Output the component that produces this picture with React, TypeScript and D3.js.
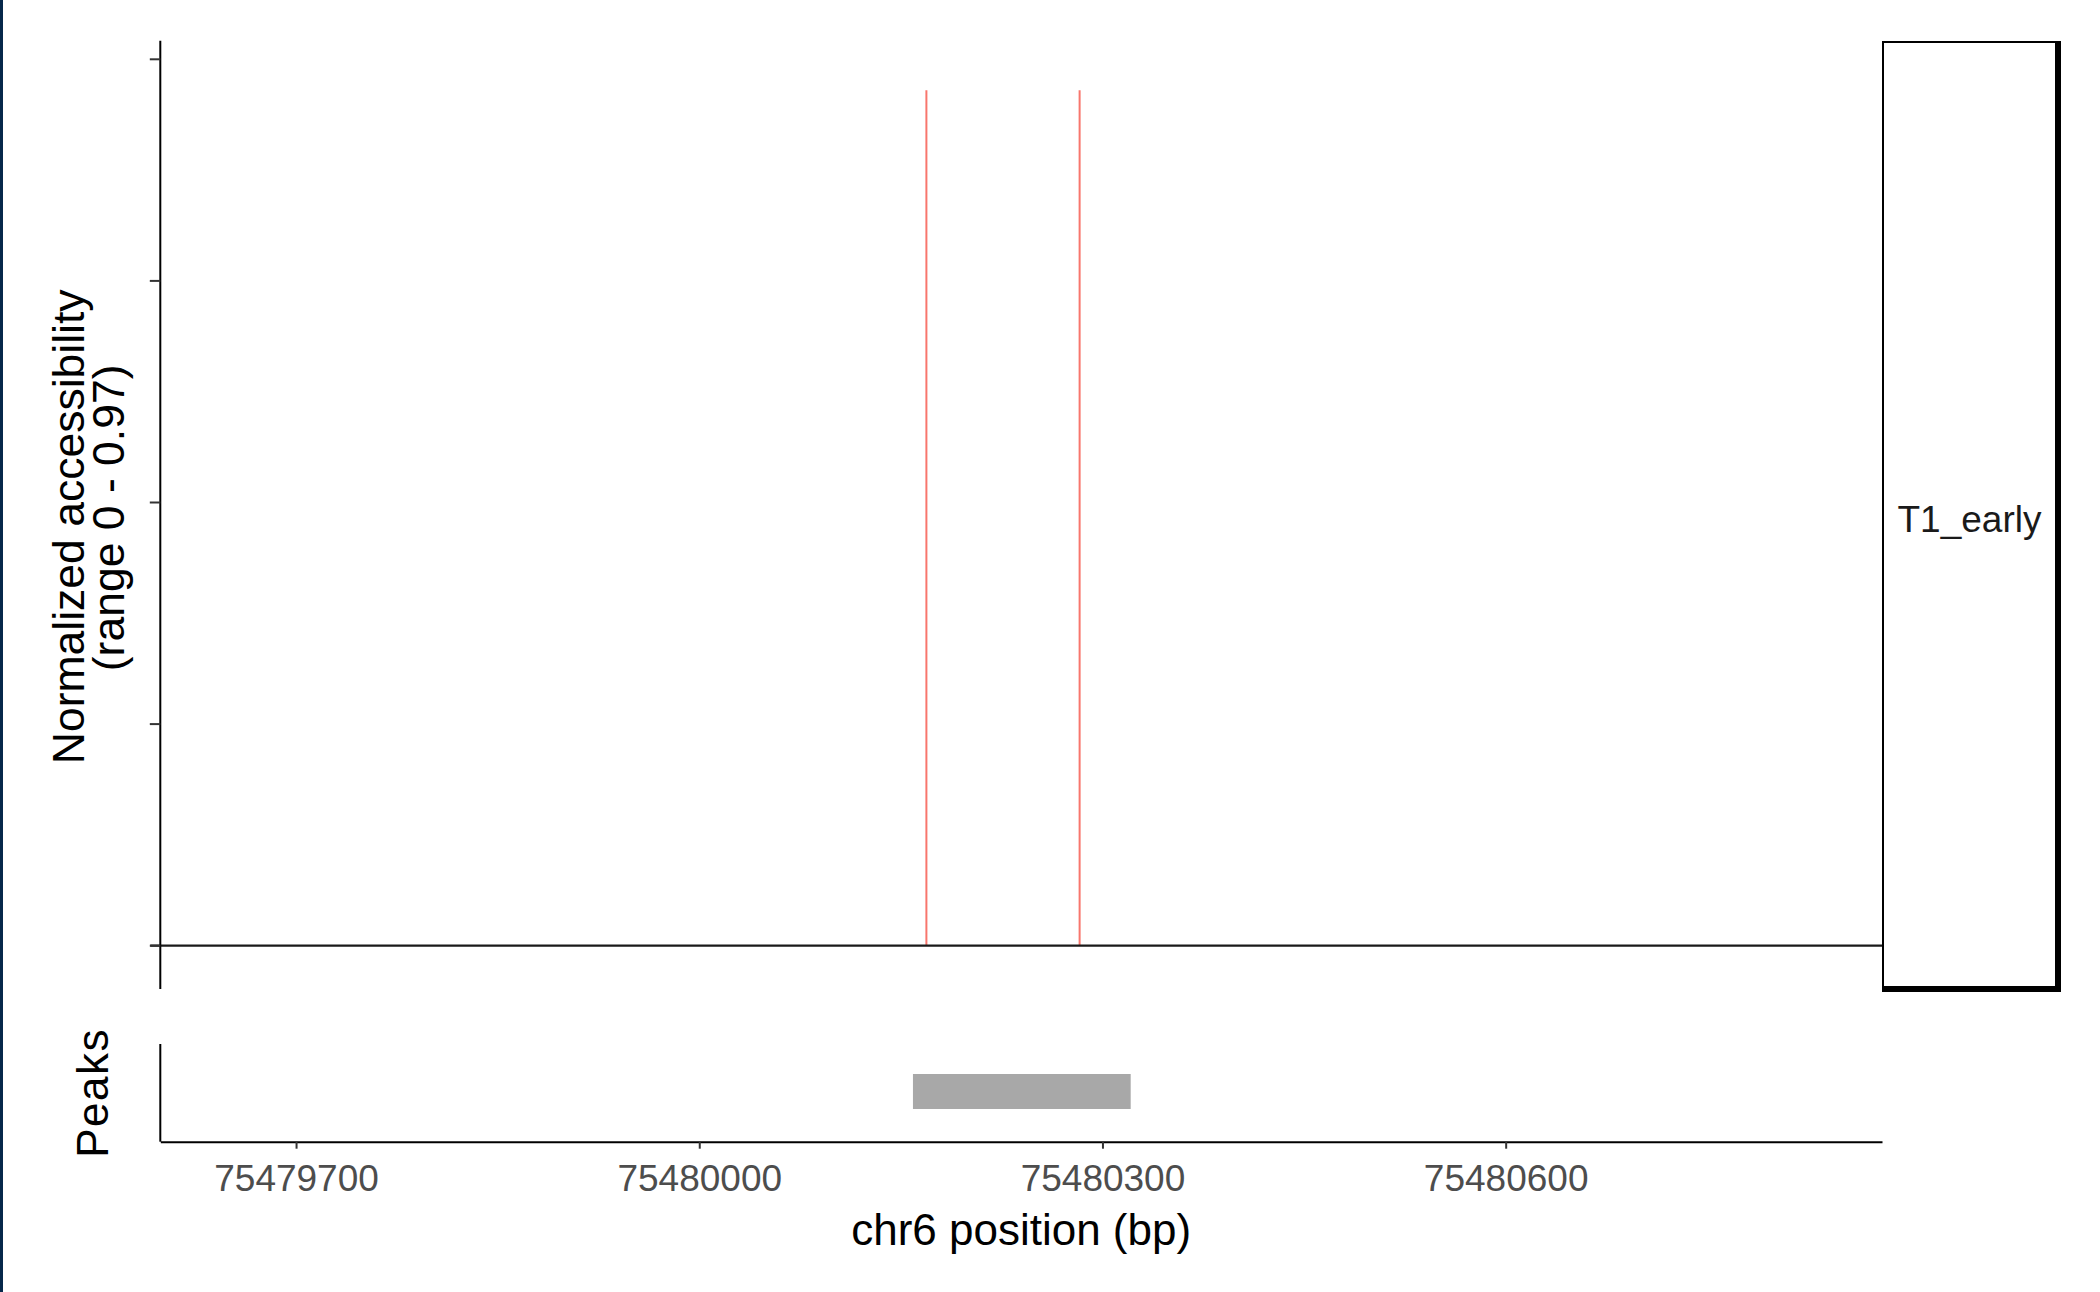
import React, { useEffect, useRef } from 'react';
import * as d3 from 'd3';

// region shown on chr6 (bp)
const regionStart = 75479599;
const regionEnd = 75480880;

// coverage track (T1_early): positions with signal and their normalized height
const coveragePos = [75480169, 75480283];
const coverageVal = [0.965, 0.965];

// peak intervals
const peakStart = [75480159];
const peakEnd = [75480321];

const xTicks = [75479700, 75480000, 75480300, 75480600];
const yTicks = [0, 0.25, 0.5, 0.75, 1];
const groupName = 'T1_early';

const FONT = '"Liberation Sans", Arial, Helvetica, sans-serif';

const App: React.FC = () => {
  const svgRef = useRef<SVGSVGElement>(null);

  useEffect(() => {
    document.body.style.margin = '0';
    if (!svgRef.current) return;
    const svg = d3.select(svgRef.current);
    svg.selectAll('*').remove();

    const left = 160.3;
    const right = 1882;
    const covTop = 40.7;
    const covBottom = 989;
    const peakTop = 1044;
    const peakBottom = 1141.7;

    const x = d3.scaleLinear().domain([regionStart, regionEnd]).range([left, right]);
    const y = d3.scaleLinear().domain([0, 1]).range([945.7, 59.3]);

    // left frame stripe of the screenshot
    svg.append('rect')
      .attr('x', 0).attr('y', 0).attr('width', 3).attr('height', 1292)
      .attr('fill', '#06284a');

    // coverage signal
    svg.append('g')
      .selectAll('line')
      .data(coveragePos.map((p, i) => ({ p, v: coverageVal[i] })))
      .enter().append('line')
      .attr('x1', d => x(d.p)).attr('x2', d => x(d.p))
      .attr('y1', y(0)).attr('y2', d => y(d.v))
      .attr('stroke', '#F8766D')
      .attr('stroke-width', 2);

    // zero line
    svg.append('line')
      .attr('x1', left - 10).attr('x2', right)
      .attr('y1', y(0)).attr('y2', y(0))
      .attr('stroke', '#1a1a1a').attr('stroke-width', 2.2);

    // y axis of the coverage panel
    svg.append('line')
      .attr('x1', left).attr('x2', left)
      .attr('y1', covTop).attr('y2', covBottom)
      .attr('stroke', '#000').attr('stroke-width', 2);

    svg.append('g')
      .selectAll('line')
      .data(yTicks)
      .enter().append('line')
      .attr('x1', left - 10.5).attr('x2', left)
      .attr('y1', d => y(d)).attr('y2', d => y(d))
      .attr('stroke', '#333').attr('stroke-width', 2);

    // strip on the right
    const sx0 = 1882, sx1 = 2061, sy0 = 41, sy1 = 992;
    svg.append('rect')
      .attr('x', sx0 + 1).attr('y', sy0 + 1)
      .attr('width', sx1 - sx0 - 2).attr('height', sy1 - sy0 - 2)
      .attr('fill', '#fff')
      .attr('stroke', '#000').attr('stroke-width', 2);
    svg.append('line')
      .attr('x1', sx1 - 3).attr('x2', sx1 - 3)
      .attr('y1', sy0).attr('y2', sy1)
      .attr('stroke', '#000').attr('stroke-width', 6);
    svg.append('line')
      .attr('x1', sx0).attr('x2', sx1)
      .attr('y1', sy1 - 3).attr('y2', sy1 - 3)
      .attr('stroke', '#000').attr('stroke-width', 6);

    svg.append('text')
      .attr('x', (sx0 + sx1) / 2 - 2)
      .attr('y', 532)
      .attr('text-anchor', 'middle')
      .attr('font-family', FONT)
      .attr('font-size', 37)
      .attr('fill', '#1a1a1a')
      .text(groupName);

    // y title (rotated frame: negative x moves text down the page)
    const yTitle = svg.append('text')
      .attr('transform', `translate(84,${(covTop + covBottom) / 2}) rotate(-90)`)
      .attr('text-anchor', 'middle')
      .attr('font-family', FONT)
      .attr('font-size', 44.5)
      .attr('fill', '#000');
    yTitle.append('tspan').attr('x', -12).attr('y', 0).text('Normalized accessibility');
    yTitle.append('tspan').attr('x', -3).attr('y', 40).text('(range 0 - 0.97)');

    // peaks panel
    svg.append('g')
      .selectAll('rect')
      .data(peakStart.map((s, i) => ({ s, e: peakEnd[i] })))
      .enter().append('rect')
      .attr('x', d => x(d.s))
      .attr('width', d => x(d.e) - x(d.s))
      .attr('y', 1074)
      .attr('height', 35)
      .attr('fill', '#A8A8A8');

    svg.append('line')
      .attr('x1', left).attr('x2', left)
      .attr('y1', peakTop).attr('y2', peakBottom)
      .attr('stroke', '#000').attr('stroke-width', 2);

    const xAxis = d3.axisBottom(x)
      .tickValues(xTicks)
      .tickFormat(d => String(d))
      .tickSize(7)
      .tickSizeOuter(0)
      .tickPadding(16);

    const gx = svg.append('g')
      .attr('transform', `translate(0,${peakBottom})`)
      .call(xAxis);
    gx.select('.domain').attr('stroke', '#000').attr('stroke-width', 2);
    gx.selectAll('.tick line').attr('stroke', '#333').attr('stroke-width', 2);
    gx.selectAll('.tick text')
      .attr('font-family', FONT)
      .attr('font-size', 37)
      .attr('fill', '#4d4d4d');

    svg.append('text')
      .attr('transform', `translate(108,${(peakTop + peakBottom) / 2}) rotate(-90)`)
      .attr('text-anchor', 'middle')
      .attr('font-family', FONT)
      .attr('font-size', 44)
      .attr('letter-spacing', 1.5)
      .attr('fill', '#000')
      .text('Peaks');

    svg.append('text')
      .attr('x', (left + right) / 2)
      .attr('y', 1245)
      .attr('text-anchor', 'middle')
      .attr('font-family', FONT)
      .attr('font-size', 44)
      .attr('fill', '#000')
      .text('chr6 position (bp)');
  }, []);

  return (
    <svg
      ref={svgRef}
      width={2100}
      height={1292}
      style={{ position: 'absolute', top: 0, left: 0, background: '#fff', display: 'block' }}
    />
  );
};

export default App;
